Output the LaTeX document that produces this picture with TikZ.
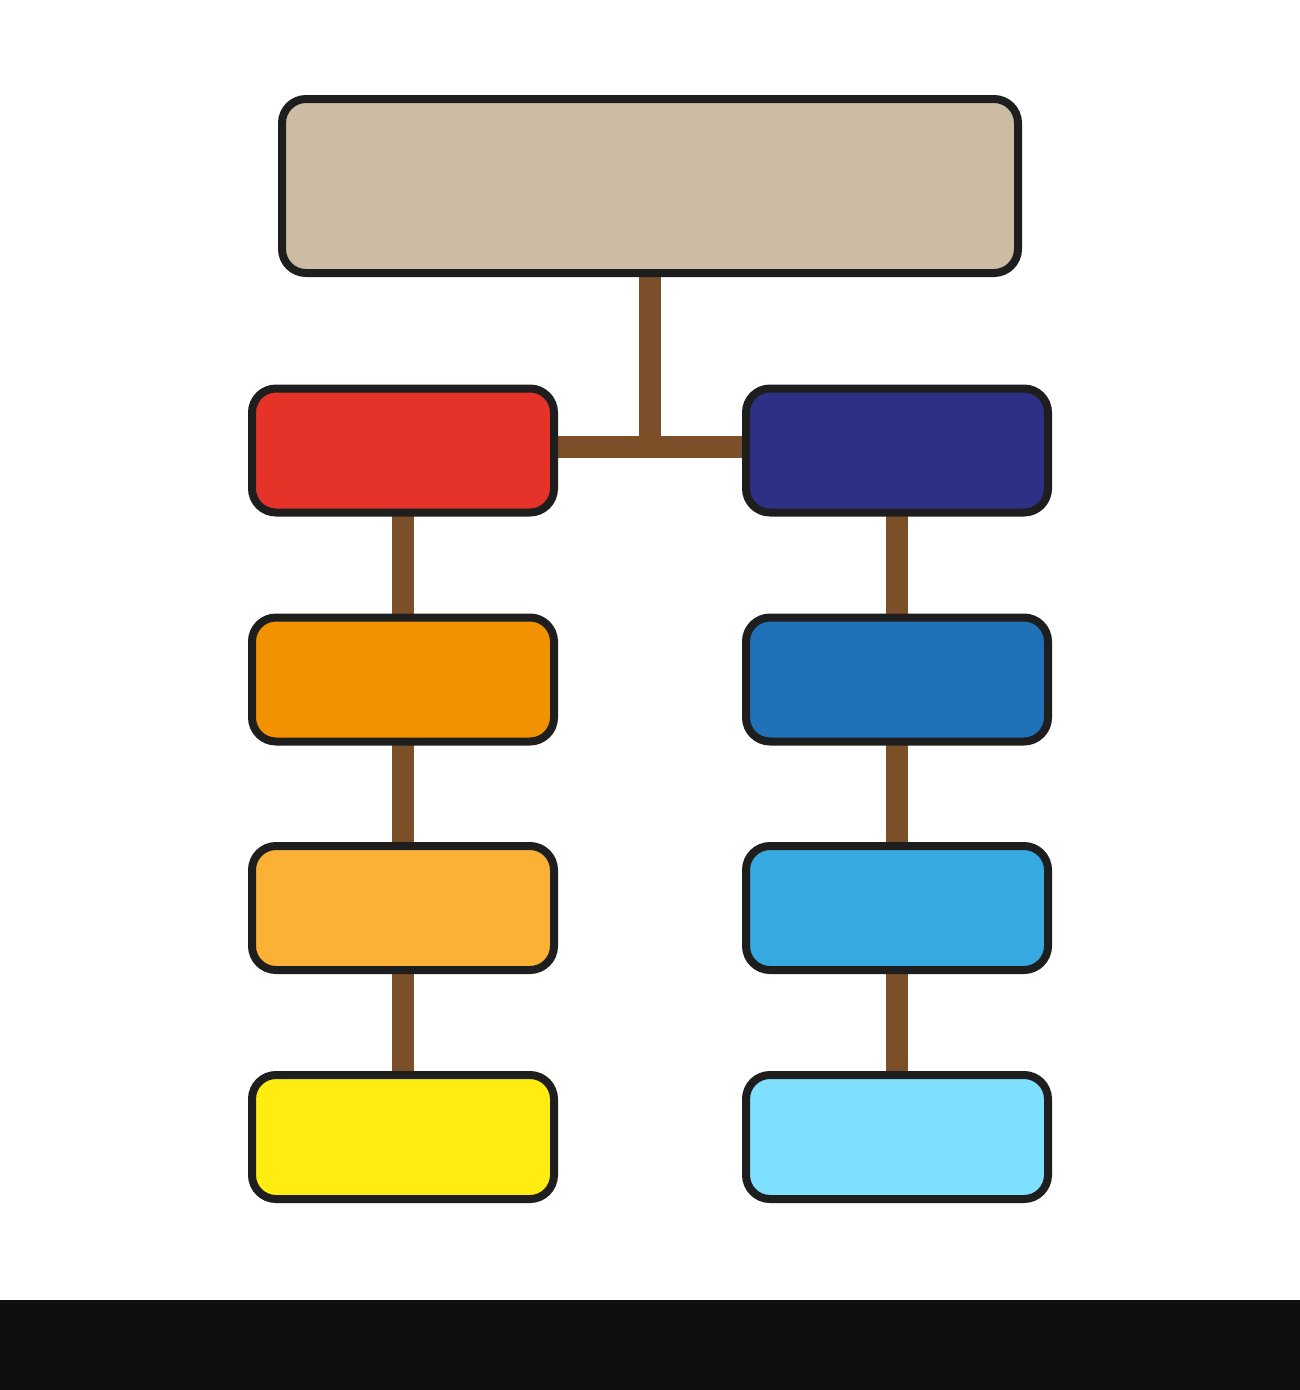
\documentclass[tikz,border=0pt]{standalone}
\definecolor{edge}{HTML}{1E1E1E}
\definecolor{link}{HTML}{7B4F27}
\definecolor{ctop}{HTML}{CBBCA3}
\definecolor{cred}{HTML}{E5332A}
\definecolor{cnavy}{HTML}{2E3086}
\definecolor{corange}{HTML}{F29200}
\definecolor{cblue}{HTML}{1F71B8}
\definecolor{clorange}{HTML}{FBB036}
\definecolor{csky}{HTML}{36A9E1}
\definecolor{cyellow}{HTML}{FFEC10}
\definecolor{ccyan}{HTML}{7FDFFF}
\definecolor{bar}{HTML}{0F0F0F}
\tikzset{
  card/.style={draw=edge, line width=8pt, rectangle, rounded corners=24pt,
    minimum width=302pt, minimum height=124pt, inner sep=0pt},
  topcard/.style={card, minimum width=736pt, minimum height=174pt},
  linkline/.style={draw=link, line width=22pt}
}
\begin{document}
\begin{tikzpicture}[x=1pt,y=-1pt]
\useasboundingbox (0,0) rectangle (1300,1390);
\fill[white] (0,0) rectangle (1300,1390);
\fill[bar] (0,1300) rectangle (1300,1390);
% node centres
\coordinate (hub) at (650,447);
% connectors (drawn first, under boxes)
\path[linkline] (650,186) -- (hub);
\path[linkline] (403,447) -- (897,447);
\path[linkline] (403,450) -- (403,1137);
\path[linkline] (897,450) -- (897,1137);
% boxes
\node[topcard, fill=ctop] (top) at (650,186) {};
\node[card, fill=cred] (l1) at (403,450.5) {};
\node[card, fill=corange] (l2) at (403,679.5) {};
\node[card, fill=clorange] (l3) at (403,908) {};
\node[card, fill=cyellow] (l4) at (403,1137) {};
\node[card, fill=cnavy] (r1) at (897,450.5) {};
\node[card, fill=cblue] (r2) at (897,679.5) {};
\node[card, fill=csky] (r3) at (897,908) {};
\node[card, fill=ccyan] (r4) at (897,1137) {};
\end{tikzpicture}
\end{document}
